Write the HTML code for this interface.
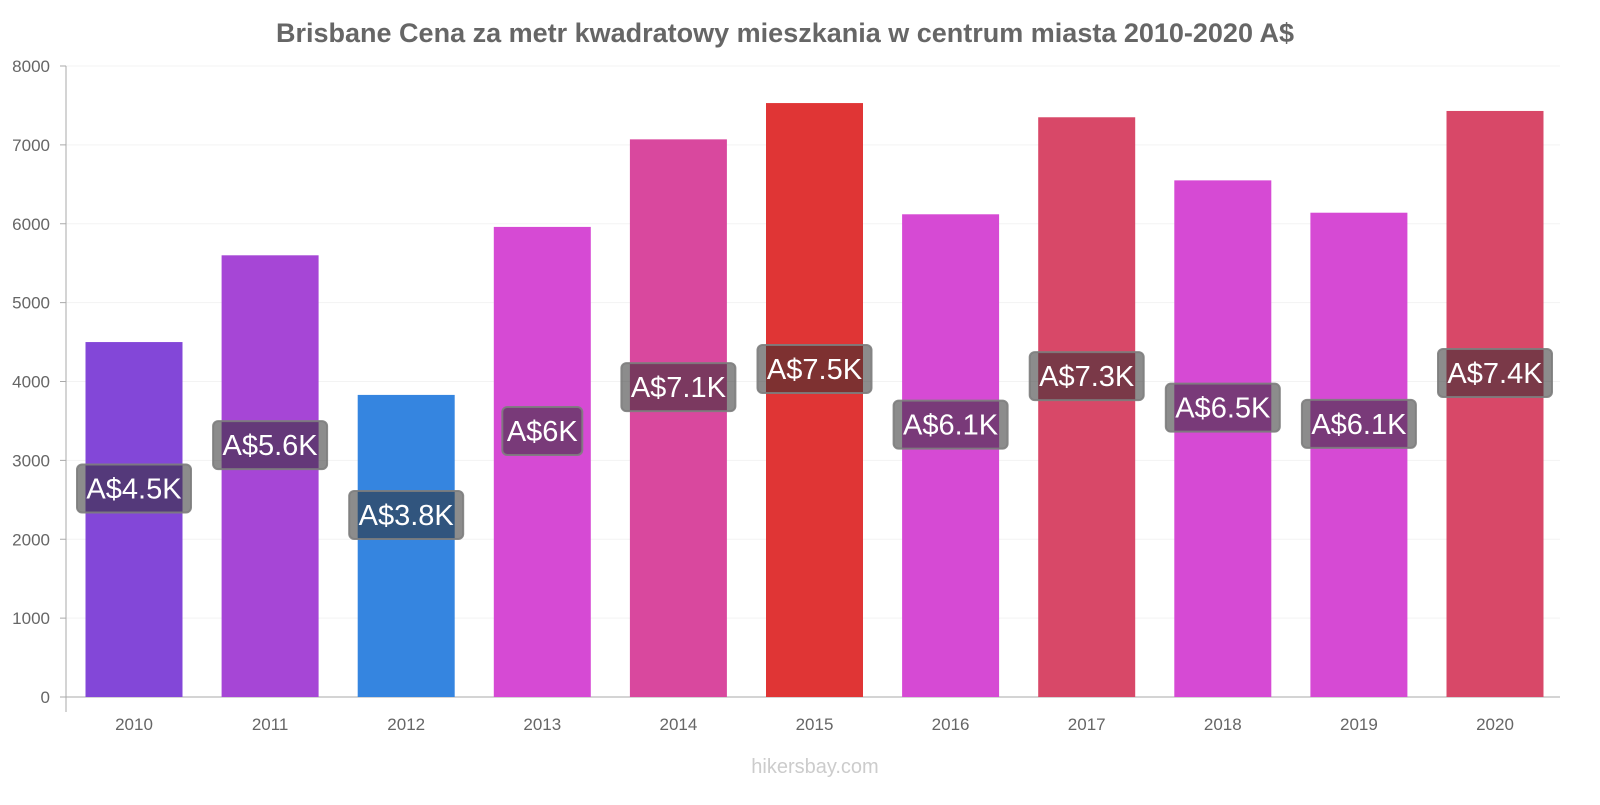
<!DOCTYPE html>
<html><head><meta charset="utf-8"><style>
body{margin:0;background:#fff;font-family:"Liberation Sans",sans-serif}
</style></head><body>
<svg id="c" width="1600" height="800" xmlns="http://www.w3.org/2000/svg">
<text x="785" y="42" text-anchor="middle" font-size="27" font-weight="bold" fill="#666">Brisbane Cena za metr kwadratowy mieszkania w centrum miasta 2010-2020 A$</text>
<text x="815" y="773" text-anchor="middle" font-size="20" fill="#ccc">hikersbay.com</text>
<g id="grid"></g><g id="bars"></g><g id="labels"></g>
</svg>
<script>
const categories=["2010","2011","2012","2013","2014","2015","2016","2017","2018","2019","2020"];
const values=[4500,5600,3830,5960,7070,7530,6120,7350,6550,6140,7430];
const valueLabels=["A$4.5K","A$5.6K","A$3.8K","A$6K","A$7.1K","A$7.5K","A$6.1K","A$7.3K","A$6.5K","A$6.1K","A$7.4K"];
const yTicks=[0,1000,2000,3000,4000,5000,6000,7000,8000];
const colors=["#8347d8","#a646d6","#3585e0","#d64ad4","#d9489e","#e03535","#d64ad4","#d84868","#d64ad4","#d64ad4","#d84868"];
const NS="http://www.w3.org/2000/svg";
const y0=697,y1=66,x0=66,step=136.1,bw=97;
const y=v=>y0-(v/8000)*(y0-y1);
const xc=i=>x0+68+i*step;
function mk(t,a,p){const e=document.createElementNS(NS,t);for(const k in a)e.setAttribute(k,a[k]);p.appendChild(e);return e;}
const g=document.getElementById('grid'),b=document.getElementById('bars'),l=document.getElementById('labels');
yTicks.forEach(t=>{
 const ln=mk('line',{x1:x0,x2:1560,y1:y(t),y2:y(t),stroke:t?'#f3f3f3':'#aaa'},g);
 
 
 const tk=mk('line',{x1:x0-6,x2:x0,y1:y(t),y2:y(t),stroke:'#aaa'},g);
 
 
 const tx=mk('text',{x:x0-16,y:y(t)+6,'text-anchor':'end','font-size':17,fill:'#666'},g);
 tx.textContent=t;
 
 
});
const ax=mk('line',{x1:x0,x2:x0,y1:y1,y2:712,stroke:'#aaa'},g);


categories.forEach((c,i)=>{
 const r=mk('rect',{x:xc(i)-bw/2,y:y(values[i]),width:bw,height:y0-y(values[i]),fill:colors[i]},b);
 
 
 const tx=mk('text',{x:xc(i),y:730,'text-anchor':'middle','font-size':17,fill:'#666'},g);
 tx.textContent=c;
 
 
 const cy=(y(values[i])+y0)/2-31;
 const w=valueLabels[i].length*17+12;
 const bx=mk('rect',{x:xc(i)-w/2,y:cy-24,width:w,height:48,rx:5,fill:'rgba(45,45,45,0.55)',stroke:'rgba(125,125,125,0.9)','stroke-width':2},l);
 
 
 const vt=mk('text',{x:xc(i),y:cy+10,'text-anchor':'middle','font-size':29,fill:'#fff'},l);
 vt.textContent=valueLabels[i];
 
 
});
</script>
</body></html>
